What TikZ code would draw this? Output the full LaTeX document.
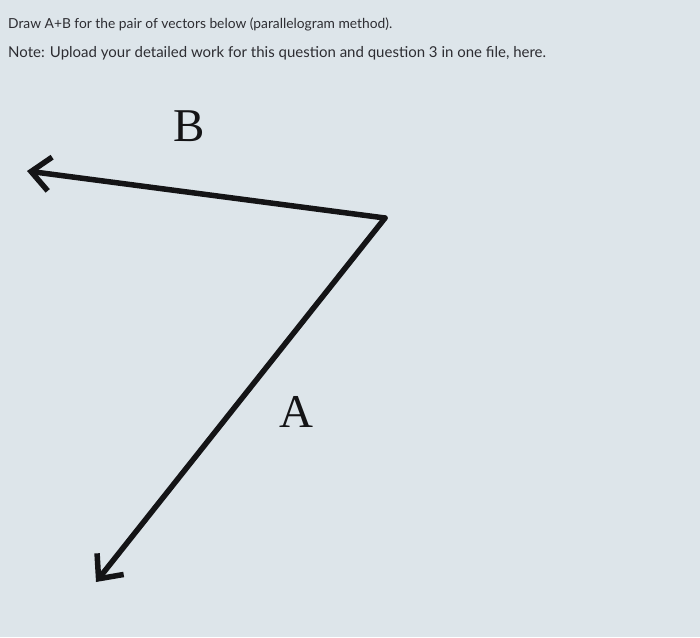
\documentclass[tikz,border=0pt]{standalone}
\usepackage{fontspec}
\setmainfont{Liberation Serif}
\newfontfamily\notefont{Lato}
\usetikzlibrary{arrows.meta}
\definecolor{paper}{RGB}{221,229,234}
\definecolor{ink}{RGB}{20,20,22}
\definecolor{notetext}{RGB}{45,45,50}
\begin{document}
\begin{tikzpicture}[x=1pt,y=-1pt]
\tikzset{vec/.style={ink,line width=5.5pt,line cap=round,line join=round,-{Straight Barb[length=19pt,width=34pt,line width=5.5pt]}},
  note/.style={anchor=base west,inner sep=0pt,text=notetext},
  letter/.style={inner sep=0pt,text=ink,font=\fontsize{47}{50}\selectfont}}
\fill [paper] (0,0) rectangle (700,637);
\useasboundingbox (0,0) rectangle (700,637);
\node [note,font=\notefont\fontsize{13.8}{16}\selectfont] (line1) at (8,28) {Draw A+B for the pair of vectors below (parallelogram method).};
\node [note,font=\notefont\fontsize{15}{17}\selectfont] (line2) at (8,57) {Note: Upload your detailed work for this question and question 3 in one file, here.};
\coordinate (tail) at (385,218);
\coordinate (tipB) at (27,171);
\coordinate (tipA) at (96,582);
\draw [vec] (tail) -- (tipB);
\draw [vec] (tail) -- (tipA);
\node [letter] (labB) at (189,126) {B};
\node [letter] (labA) at (296,412) {A};
\end{tikzpicture}
\end{document}
